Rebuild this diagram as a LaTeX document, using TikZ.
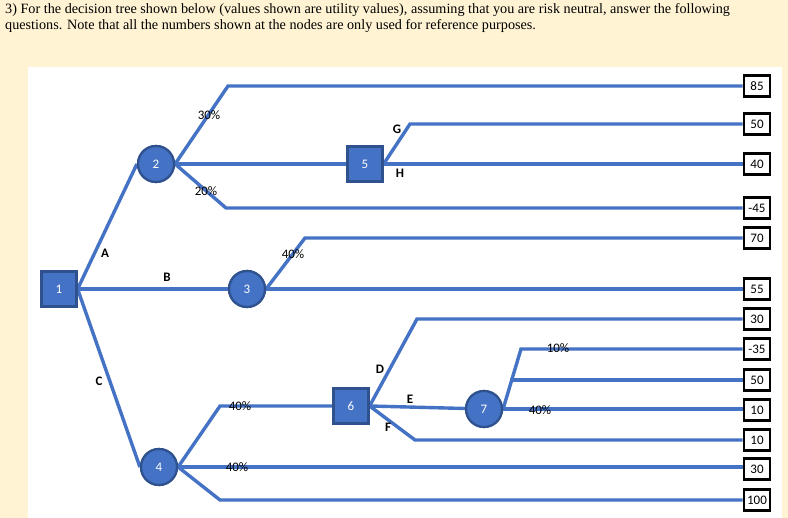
\documentclass[tikz,border=0pt]{standalone}
\usepackage{fontspec}
\setmainfont{Liberation Serif}
\newfontfamily\calf{Carlito}
\definecolor{bg}{HTML}{FFF3D4}
\definecolor{bl}{HTML}{4472C4}
\definecolor{bd}{HTML}{2F528F}
\begin{document}
\begin{tikzpicture}[x=1pt,y=-1pt,
 br/.style={draw=bl,line width=3.4pt},
 sq/.style={draw=bd,line width=2.2pt,fill=bl,minimum size=35pt,inner sep=0pt,text=white,font=\calf\fontsize{13}{15}\selectfont},
 ci/.style={circle,draw=bd,line width=2.2pt,fill=bl,minimum size=36pt,inner sep=0pt,text=white,font=\calf\fontsize{13}{15}\selectfont},
 tb/.style={draw=black,line width=2.8pt,fill=white,minimum height=21pt,minimum width=26pt,inner sep=1.5pt,font=\calf\fontsize{13}{15}\selectfont},
 lb/.style={font=\calf\bfseries\fontsize{13}{15}\selectfont},
 pc/.style={font=\calf\fontsize{13}{15}\selectfont}]
\fill[bg] (0,0) rectangle (788,518);
\fill[white] (28,67) rectangle (782,518);
\node[anchor=north west,align=left,font=\fontsize{14.2}{16}\selectfont,inner sep=0pt] (title) at (5,3)
 {3) For the decision tree shown below (values shown are utility values), assuming that you are risk neutral, answer the following\\questions. Note that all the numbers shown at the nodes are only used for reference purposes.};
% terminals
\foreach \n/\y/\t in {t1/86/85,t2/124/50,t3/164/40,t4/208/-45,t5/238/70,t6/289/55,t7/319/30,t8/349/-35,t9/380/50,t10/410/10,t11/440/10,t12/469/30,t13/500/100}
  \node[tb] (\n) at (757,\y) {\t};
% coordinates
\coordinate (a1) at (228,86); \coordinate (a4) at (226,208);
\coordinate (g) at (410,124); \coordinate (k5) at (305,238);
\coordinate (d) at (417,319); \coordinate (f) at (415,440);
\coordinate (u7) at (521,349); \coordinate (m7) at (510,380);
\coordinate (u4) at (220,406); \coordinate (d4) at (220,500);
% nodes
\node[sq] (n1) at (59,289) {1};
\node[ci] (n2) at (156,164) {2};
\node[ci] (n3) at (247,289) {3};
\node[ci] (n4) at (159,467) {4};
\node[sq] (n5) at (365,164) {5};
\node[sq] (n6) at (351,406) {6};
\node[ci] (n7) at (484,409) {7};
% branches
\draw[br] (n1.east) -- (n2.west);
\draw[br] (n1.east) -- (n3);
\draw[br] (n1.east) -- (n4.west);
\draw[br] (n2.east) -- (a1) -- (t1.west);
\draw[br] (n2.east) -- (n5);
\draw[br] (n2.east) -- (a4) -- (t4.west);
\draw[br] (n5.east) -- (g) -- (t2.west);
\draw[br] (n5.east) -- (t3.west);
\draw[br] (n3.east) -- (k5) -- (t5.west);
\draw[br] (n3.east) -- (t6.west);
\draw[br] (n4.east) -- (u4) -- (n6.west);
\draw[br] (n4.east) -- (t12.west|-n4.east);
\draw[br] (n4.east) -- (d4) -- (t13.west);
\draw[br] (n6.east) -- (d) -- (t7.west);
\draw[br] (n6.east) -- (n7);
\draw[br] (n6.east) -- (f) -- (t11.west);
\draw[br] (n7.east) -- (u7) -- (t8.west);
\draw[br] (m7) -- (t9.west);
\draw[br] (n7.east) -- (t10.west|-n7.east);
% redraw nodes on top
\node[sq] at (59,289) {1};
\node[ci] at (156,164) {2};
\node[ci] at (247,289) {3};
\node[ci] at (159,467) {4};
\node[sq] at (365,164) {5};
\node[sq] at (351,406) {6};
\node[ci] at (484,409) {7};
\foreach \n/\y/\t in {t1/86/85,t2/124/50,t3/164/40,t4/208/-45,t5/238/70,t6/289/55,t7/319/30,t8/349/-35,t9/380/50,t10/410/10,t11/440/10,t12/469/30,t13/500/100}
  \node[tb] at (757,\y) {\t};
% labels
\node[lb] (lA) at (105,253) {A};
\node[lb] (lB) at (167,277) {B};
\node[lb] (lC) at (99,381) {C};
\node[lb] (lG) at (397,129) {G};
\node[lb] (lH) at (400,173) {H};
\node[lb] (lD) at (380,369) {D};
\node[lb] (lE) at (410,399) {E};
\node[lb] (lF) at (388,427) {F};
\node[pc] (p1) at (209,115) {30\%};
\node[pc] (p2) at (206,191) {20\%};
\node[pc] (p3) at (293,254) {40\%};
\node[pc] (p4) at (558,348) {10\%};
\node[pc] (p5) at (540,410) {40\%};
\node[pc] (p6) at (240,406) {40\%};
\node[pc] (p7) at (237,467) {40\%};
\end{tikzpicture}
\end{document}
